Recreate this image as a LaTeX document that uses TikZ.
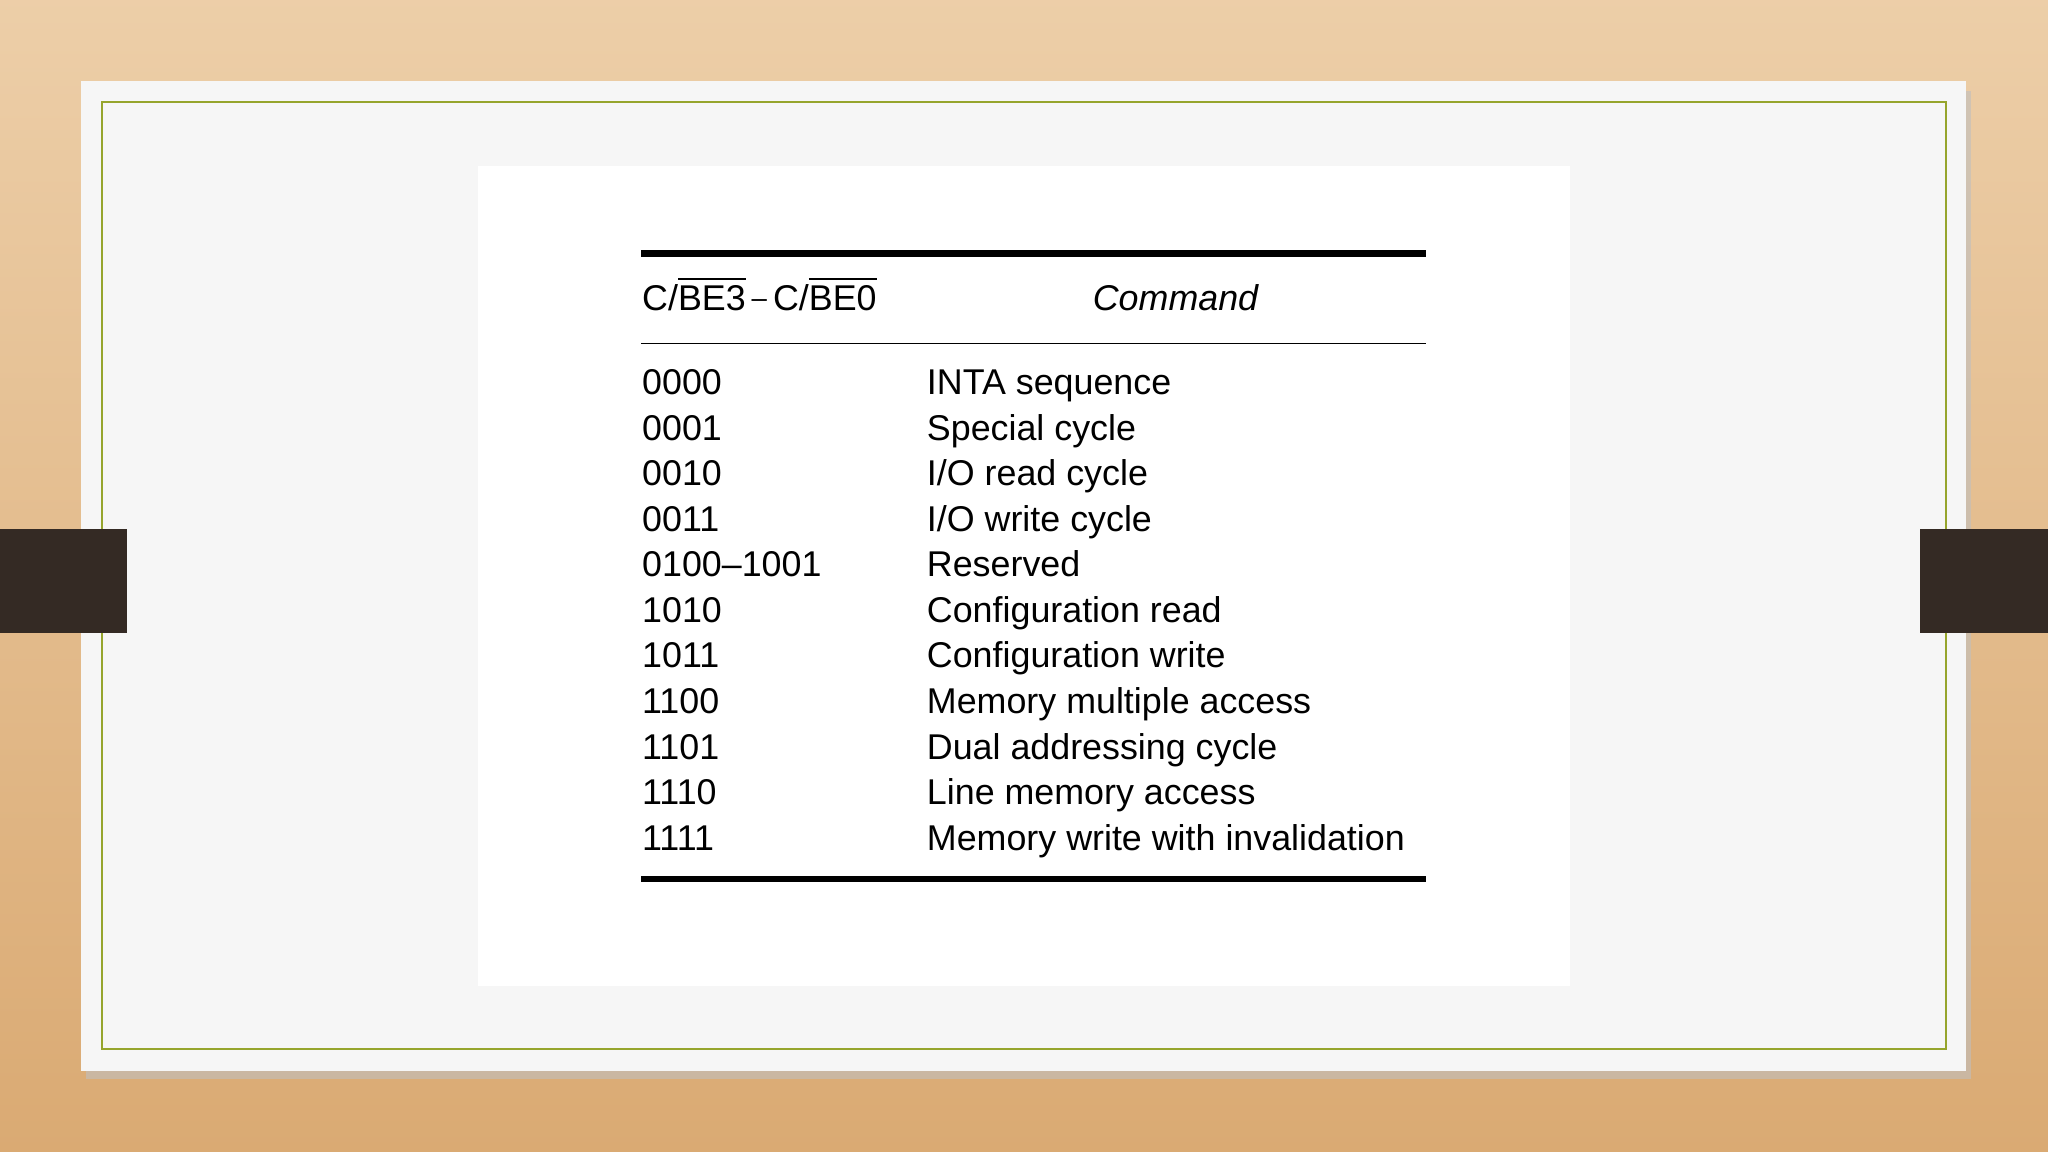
\documentclass[tikz,border=0pt]{standalone}
\usepackage{fontspec}
\setmainfont{Liberation Sans}
\newcommand{\ovl}[1]{$\overline{\hbox{#1}}$}
\definecolor{wood}{RGB}{232,194,146}
\definecolor{wooddark}{RGB}{218,170,115}
\definecolor{panel}{RGB}{246,246,246}
\definecolor{frame}{RGB}{150,165,45}
\definecolor{tab}{RGB}{52,42,36}
\begin{document}
\begin{tikzpicture}[x=0.01cm,y=-0.01cm,
  txt/.style={anchor=base west,inner sep=0pt,font=\fontsize{7.8}{10}\selectfont},
  thick rule/.style={line width=1.4pt,black},
  thin rule/.style={line width=0.35pt,black}]
\useasboundingbox (0,0) rectangle (1568,882);
\shade[top color=wood!80!white,bottom color=wooddark] (0,0) rectangle (1568,882);
\fill[black!25,opacity=0.6] (66,70) rectangle (1509,826);
\fill[panel] (62,62) rectangle (1505,820);
\draw[frame,line width=0.5pt] (78,78) rectangle (1490,803);
\fill[tab] (0,405) rectangle (97,485);
\fill[tab] (1470,405) rectangle (1568,485);
\fill[white] (366,127) rectangle (1202,755);
\draw[thick rule] (491,194) -- (1092,194);
\draw[thin rule] (491,263) -- (1092,263);
\draw[thick rule] (491,673) -- (1092,673);
\node[txt] (h1) at (491,238) {C/\ovl{BE3}\,{\fontsize{6}{8}\selectfont\raisebox{0.2ex}{--}}\,C/\ovl{BE0}};
\node[txt,anchor=base] (h2) at (900,238) {\itshape Command};
\foreach \a/\b [count=\i from 0] in {0000/INTA sequence,0001/Special cycle,0010/{I/O read cycle},0011/{I/O write cycle},0100--1001/Reserved,1010/Configuration read,1011/Configuration write,1100/Memory multiple access,1101/Dual addressing cycle,1110/Line memory access,1111/Memory write with invalidation}{
  \node[txt] (c\i) at (491,{302+34.9*\i}) {\a};
  \node[txt] (d\i) at (709,{302+34.9*\i}) {\b};
}
\end{tikzpicture}
\end{document}
